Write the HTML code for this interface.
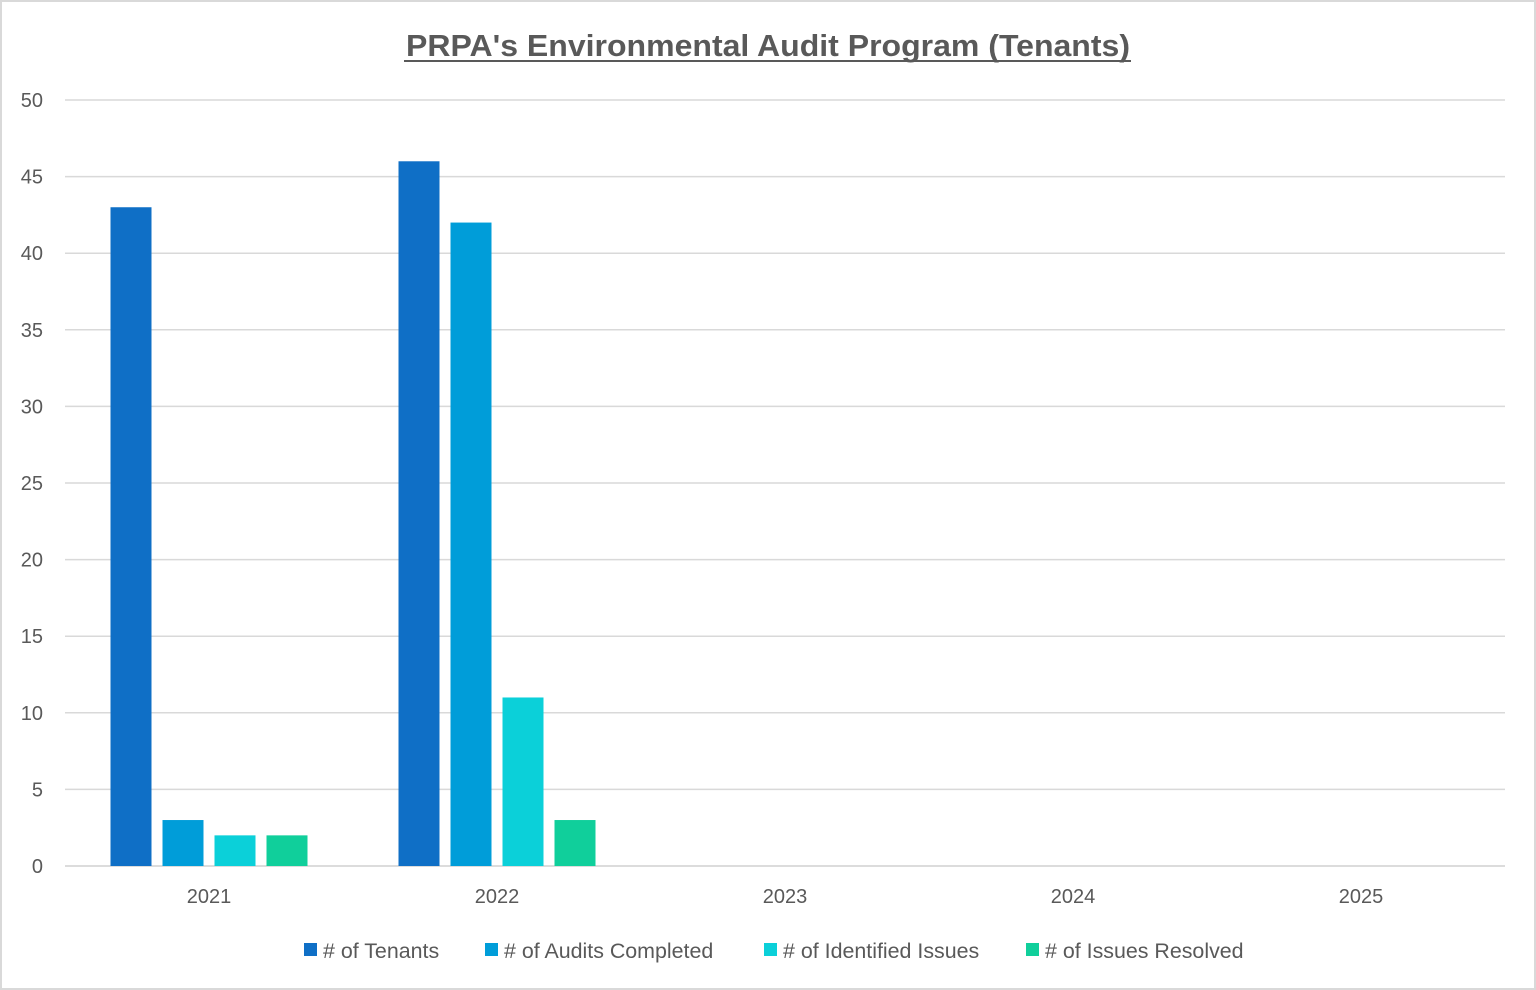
<!DOCTYPE html>
<html><head><meta charset="utf-8"><style>
body{margin:0;background:#fff;}
svg{display:block;font-family:"Liberation Sans",sans-serif;}
</style></head><body>
<svg id="chart" width="1536" height="990">
<rect x="1" y="1" width="1534" height="988" fill="#fff" stroke="#d9d9d9" stroke-width="2"/>
<text x="768" y="56" text-anchor="middle" font-size="31" font-weight="bold" fill="#595959" textLength="724" lengthAdjust="spacingAndGlyphs">PRPA's Environmental Audit Program (Tenants)</text>
<line x1="404" y1="61" x2="1131" y2="61" stroke="#595959" stroke-width="2"/>
<g id="grid"></g><g id="bars"></g><g id="xlabels"></g><g id="legend"></g>
</svg>
<script>
const categories=["2021","2022","2023","2024","2025"];
const seriesNames=["# of Tenants","# of Audits Completed","# of Identified Issues","# of Issues Resolved"];
const tenants=[43,46,0,0,0];
const audits=[3,42,0,0,0];
const issues=[2,11,0,0,0];
const resolved=[2,3,0,0,0];
const yTicks=[0,5,10,15,20,25,30,35,40,45,50];
const colors=["#0F6FC6","#009DD9","#0BD0D9","#10CF9B"];
const series=[tenants,audits,issues,resolved];
const NS="http://www.w3.org/2000/svg";
const x0=65,x1=1505,y0=866,y1=100,yMax=50;
const y=v=>y0-(y0-y1)*v/yMax;
const band=(x1-x0)/categories.length;
const cx=i=>x0+band*(i+0.5);
function mk(tag,attrs,parent){const e=document.createElementNS(NS,tag);for(const k in attrs)e.setAttribute(k,attrs[k]);parent.appendChild(e);return e;}
const grid=document.getElementById('grid');
yTicks.forEach(t=>{
  const l=mk('line',{x1:x0,x2:x1,y1:y(t),y2:y(t),stroke:t===0?'#d0d0d0':'#d9d9d9','stroke-width':1.5},grid);
  
  
  const tx=mk('text',{x:43,y:y(t)+7,'text-anchor':'end','font-size':20,fill:'#595959'},grid);
  tx.textContent=t;
  
  
});
const bars=document.getElementById('bars');
const bw=41,step=52;
categories.forEach((c,i)=>{
  series.forEach((s,j)=>{
    const v=s[i];if(!v)return;
    const bx=cx(i)+(j-1.5)*step-bw/2;
    const r=mk('rect',{x:bx,y:y(v),width:bw,height:y0-y(v),fill:colors[j]},bars);
    
    
  });
  const t=mk('text',{x:cx(i),y:903,'text-anchor':'middle','font-size':20,fill:'#595959'},document.getElementById('xlabels'));
  t.textContent=c;
  
  
});
const lg=document.getElementById('legend');
const lx=[304,485,764,1026];
seriesNames.forEach((n,j)=>{
  const g=mk('g',{},lg);
  
  
  mk('rect',{x:lx[j],y:943,width:13,height:13,fill:colors[j]},g);
  const t=mk('text',{x:lx[j]+19,y:958,'font-size':21.4,fill:'#595959'},g);
  t.textContent=n;
});
</script>
</body></html>
